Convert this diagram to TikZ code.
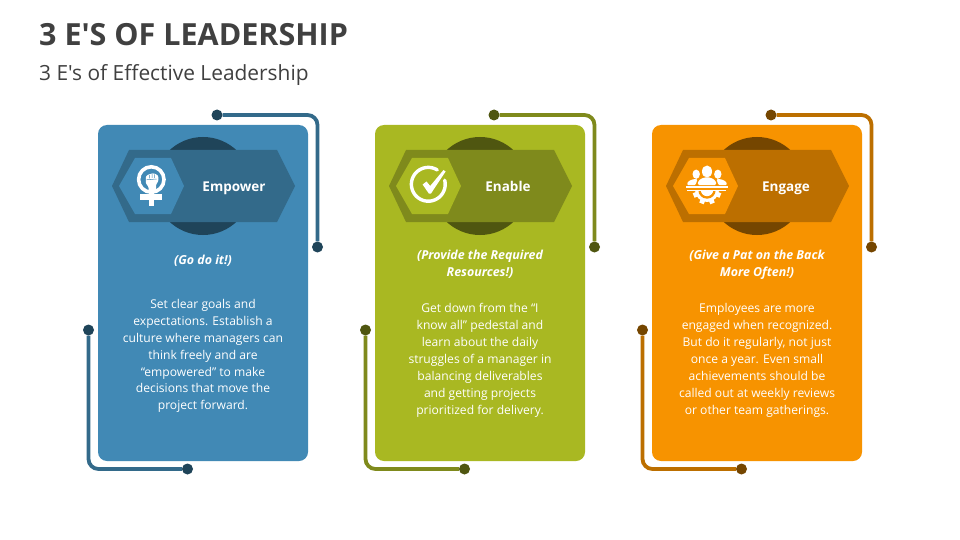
\documentclass[tikz,border=0pt]{standalone}
\usepackage{fontspec}
\setmainfont{Open Sans}[Ligatures=TeXOff]
\definecolor{titlec}{HTML}{404040}
\definecolor{bluea}{HTML}{4189B5}\definecolor{blueb}{HTML}{336A8A}\definecolor{bluec}{HTML}{1F4459}
\definecolor{grna}{HTML}{A9B822}\definecolor{grnb}{HTML}{7F8A1C}\definecolor{grnc}{HTML}{4F5610}
\definecolor{orga}{HTML}{F79300}\definecolor{orgb}{HTML}{BC6F00}\definecolor{orgc}{HTML}{754600}
\tikzset{
 x=1pt,y=-1pt,
 cardbox/.style={fill=#1,draw=none,rounded corners=9pt},
 wire/.style={draw=#1,line width=3.8pt,rounded corners=10pt},
 dotnode/.style={circle,fill=#1,minimum size=11pt,inner sep=0pt,draw=none},
 headtxt/.style={text=white,anchor=base,font=\bfseries\fontsize{13.5}{16}\selectfont,inner sep=0pt},
 subtxt/.style={text=white,font=\bfseries\itshape\fontsize{12.4}{17}\selectfont,align=center,inner sep=0pt},
 bodytxt/.style={text=white,font=\fontsize{12.1}{16.9}\selectfont,align=center,inner sep=0pt},
}
\newcommand{\panel}[7]{%
 \begin{scope}[xshift=#1pt]
  \fill[cardbox=#2] (98,125) rectangle (308,461);
  \fill[#4] (203,186) circle[radius=49];
  \fill[#3] (112,186) -- (129,150) -- (277,150) -- (295,186) -- (277,222) -- (129,222) -- cycle;
  \fill[#2] (119,186) -- (135,158) -- (171,158) -- (184,186) -- (171,214) -- (135,214) -- cycle;
  \coordinate (#5c1) at (317.5,115);
  \coordinate (#5c2) at (88.5,469);
  \node[dotnode=#4] (#5d1) at (217,115) {};
  \node[dotnode=#4] (#5d2) at (317.5,247) {};
  \node[dotnode=#4] (#5d3) at (88.5,330) {};
  \node[dotnode=#4] (#5d4) at (187.5,469) {};
  \draw[wire=#3] (#5d1) -- (#5c1) -- (#5d2);
  \draw[wire=#3] (#5d3) -- (#5c2) -- (#5d4);
  \node[headtxt] (#5h) at (#6,191) {#7};
 \end{scope}}
\begin{document}
\begin{tikzpicture}
\useasboundingbox (0,0) rectangle (960,540);
\fill[white] (0,0) rectangle (960,540);
\node[anchor=west,inner sep=0pt,text=titlec,font=\bfseries\fontsize{30.5}{36}\selectfont] (title) at (39,35) {3 E'S OF LEADERSHIP};
\node[anchor=west,inner sep=0pt,text=titlec,font=\fontsize{20.9}{24}\selectfont] (subtitle) at (39,75) {3 E's of Effective Leadership};

\panel{0}{bluea}{blueb}{bluec}{p}{234}{Empower}
\panel{277}{grna}{grnb}{grnc}{q}{231}{Enable}
\panel{554}{orga}{orgb}{orgc}{r}{232}{Engage}

% Empower icon
\draw[white,line width=3.6pt] (151.3,179.5) circle[radius=12.7];
\fill[white] (148.6,192) rectangle (153.8,206);
\fill[white] (140,194) rectangle (162,200);
\fill[white,rounded corners=0.8pt] (148.5,193) -- (148.5,187) -- (145.8,183) -- (145.8,177) -- (147.5,174.8) -- (150,174.2) -- (152,173.4) -- (154.5,173.6) -- (156.5,174.5) -- (158.3,176.2) -- (158.3,181) -- (156,185) -- (156,193) -- cycle;
\draw[bluea,line width=0.5pt] (149.6,175.2) -- (149.6,178.5) (152,174.2) -- (152,178) (154.4,174.4) -- (154.4,178) (146.5,179.8) -- (156.5,179);

% Enable icon
\draw[white,line width=3.4pt,line cap=round] plot[smooth,domain=-14:302,samples=70] ({428.3+16.9*cos(\x)},{184.3+16.9*sin(\x)});
\fill[white] (422.6,184.5) -- (426.5,181.5) -- (430.2,186) -- (443.5,170) -- (445.6,171.5) -- (431,193.5) -- (428.8,193.5) -- cycle;

% Engage icon
\begin{scope}
 \clip (690,190.3) rectangle (724,210);
 \fill[white] (707,190) circle[radius=12];
 \foreach \a in {22.5,67.5,...,337.5}{
  \fill[white,rotate around={\a:(707,190)}] (717,187.6) rectangle (721.5,192.4);
 }
 \fill[orga] (707,190) circle[radius=8.7];
 \fill[white] (707,190) circle[radius=6.2];
\end{scope}
\fill[white] (685.8,186) rectangle (727.5,188.4);
\fill[white] (687,190.2) rectangle (726,190.9);
\fill[white] (707,171.5) ellipse[x radius=5,y radius=6];
\fill[white,rounded corners=1.5pt] (697.5,185) -- (698.5,180.5) -- (703.5,177.5) -- (710.5,177.5) -- (715.5,180.5) -- (716.5,185) -- cycle;
\fill[white] (696.2,174.2) ellipse[x radius=3.7,y radius=4.6];
\fill[white] (717.8,174.2) ellipse[x radius=3.7,y radius=4.6];
\fill[white,rounded corners=1pt] (687,185) -- (688,181.5) -- (693,179.2) -- (697.5,179.2) -- (695.5,185) -- cycle;
\fill[white,rounded corners=1pt] (727,185) -- (726,181.5) -- (721,179.2) -- (716.5,179.2) -- (718.5,185) -- cycle;

% texts
\node[subtxt] (ps) at (203,261) {(Go do it!)};
\node[subtxt] (qs) at (480,264.5) {(Provide the Required\\Resources!)};
\node[subtxt] (rs) at (757,264.5) {(Give a Pat on the Back\\More Often!)};
\node[bodytxt] (pb) at (203,356) {Set clear goals and\\expectations. Establish a\\culture where managers can\\think freely and are\\“empowered” to make\\decisions that move the\\project forward.};
\node[bodytxt] (qb) at (480,360.5) {Get down from the “I\\know all” pedestal and\\learn about the daily\\struggles of a manager in\\balancing deliverables\\and getting projects\\prioritized for delivery.};
\node[bodytxt] (rb) at (757,360.5) {Employees are more\\engaged when recognized.\\But do it regularly, not just\\once a year. Even small\\achievements should be\\called out at weekly reviews\\or other team gatherings.};
\end{tikzpicture}
\end{document}
